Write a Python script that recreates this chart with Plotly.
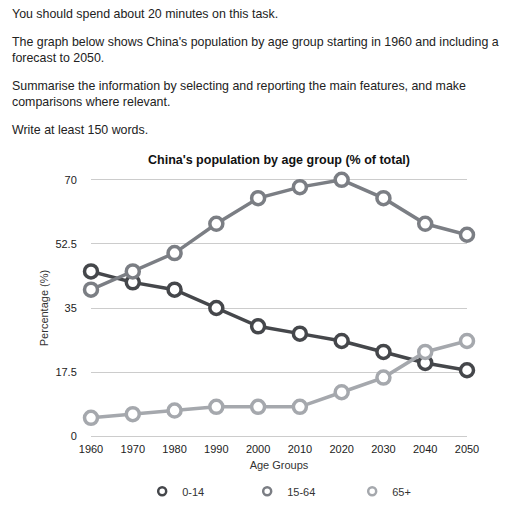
import plotly.graph_objects as go

# data
years = [1960, 1970, 1980, 1990, 2000, 2010, 2020, 2030, 2040, 2050]
age_0_14 = [45, 42, 40, 35, 30, 28, 26, 23, 20, 18]
age_15_64 = [40, 45, 50, 58, 65, 68, 70, 65, 58, 55]
age_65_plus = [5, 6, 7, 8, 8, 8, 12, 16, 23, 26]

y_ticks = [0, 17.5, 35, 52.5, 70]
y_ticktext = ['0', '17.5', '35', '52.5', '70']

series = [('0-14', age_0_14, '#45474b'),
          ('15-64', age_15_64, '#7b7e84'),
          ('65+', age_65_plus, '#a5a8ad')]

fig = go.Figure()

for name, vals, col in series:
    fig.add_trace(go.Scatter(
        x=years, y=vals, mode='lines+markers', name=name, showlegend=False,
        line=dict(color=col, width=3.5),
        marker=dict(symbol='circle', size=13, color='white',
                    line=dict(color=col, width=3.5)),
        cliponaxis=False))

# legend entries show only the marker
for name, vals, col in series:
    fig.add_trace(go.Scatter(
        x=[None], y=[None], mode='markers', name=name,
        marker=dict(symbol='circle', size=8, color='white',
                    line=dict(color=col, width=2.5))))

# page body adds an 8px offset, so layout is placed 8px up/left
off = 8
left_px, right_px = 91 - off, 467 - off
y0_px, y70_px = 436 - off, 180 - off
unit = (y0_px - y70_px) / 70.0
pad = 0.5
top_px = y70_px - pad * unit
bottom_px = y0_px + pad * unit

def paper_y(py):
    return (bottom_px - (py - off)) / (bottom_px - top_px)

lines = [
    (14, "You should spend about 20 minutes on this task."),
    (42, "The graph below shows China's population by age group starting in 1960 and including a"),
    (58, "forecast to 2050."),
    (86, "Summarise the information by selecting and reporting the main features, and make"),
    (102, "comparisons where relevant."),
    (130, "Write at least 150 words."),
]
for py, txt in lines:
    fig.add_annotation(
        text=txt, xref='paper', yref='paper',
        x=(10 - off - left_px) / (right_px - left_px),
        y=paper_y(py),
        xanchor='left', yanchor='middle', showarrow=False,
        font=dict(size=12.4, color='#222222'))

fig.update_layout(
    width=512, height=505,
    margin=dict(l=left_px, r=512 - right_px, t=top_px, b=505 - bottom_px,
                autoexpand=False),
    paper_bgcolor='white', plot_bgcolor='white',
    font=dict(family='Liberation Sans, Arial, sans-serif', color='#333333', size=11),
    title=dict(text="<b>China's population by age group (% of total)</b>",
               x=0.5, xref='paper', xanchor='center',
               y=(505 - (160 - off)) / 505, yanchor='middle',
               font=dict(size=12.5, color='#111111')),
    legend=dict(orientation='h', x=0.555, xanchor='center',
                y=paper_y(491), yanchor='middle',
                entrywidth=60, entrywidthmode='pixels', itemwidth=30,
                font=dict(size=11, color='#333333')),
)

fig.update_xaxes(
    range=[1960, 2050], tickvals=years, showgrid=False, zeroline=False,
    showline=False, ticks='outside', ticklen=1, tickcolor='white',
    tickfont=dict(size=11, color='#222222'),
    title=dict(text='Age Groups', font=dict(size=11, color='#333333'), standoff=7))

fig.update_yaxes(
    range=[-pad, 70 + pad], tickvals=y_ticks, ticktext=y_ticktext,
    showgrid=True, gridcolor='#cccccc', gridwidth=1, zeroline=False,
    showline=False, ticks='outside', ticklen=11, tickcolor='white',
    tickfont=dict(size=11, color='#222222'),
    title=dict(text='Percentage (%)', font=dict(size=11, color='#333333'), standoff=4))

fig.write_html("out.html")
